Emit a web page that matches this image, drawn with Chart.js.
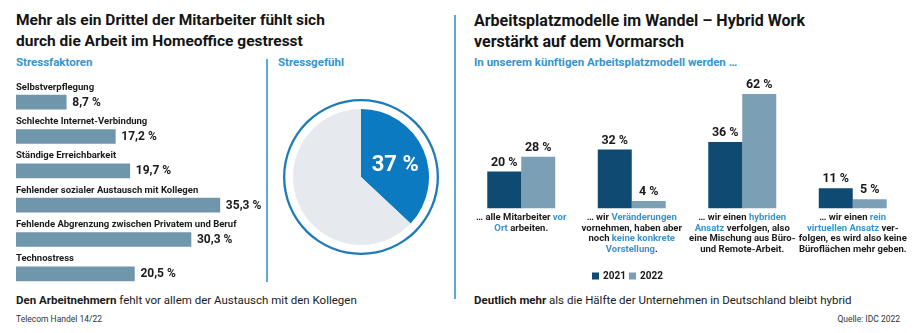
<!DOCTYPE html>
<html>
<head>
<meta charset="utf-8">
<script src="https://cdn.jsdelivr.net/npm/chart.js@4.4.0/dist/chart.umd.min.js"></script>
<style>
  body { margin: 0; background: #fff; font-family: Roboto, sans-serif; color: #1a1a1a; }
  #wrap { position: relative; width: 915px; height: 333px; overflow: hidden; }
  .t { position: absolute; white-space: nowrap; }
  .title { font-weight: bold; font-size: 15.5px; line-height: 21px; color: #141414; }
  .sub { font-weight: bold; font-size: 11.5px; line-height: 14px; color: #3794cc; }
  .note { font-size: 11.5px; line-height: 14px; }
  .foot { font-size: 8.5px; line-height: 12px; color: #333; }
  .vline { position: absolute; width: 2px; background: #5aa9d8; }
  canvas { position: absolute; }
</style>
</head>
<body>
<div id="wrap">
  <div class="t title" style="left:16px;top:10px">Mehr als ein Drittel der Mitarbeiter fühlt sich<br>durch die Arbeit im Homeoffice gestresst</div>
  <div class="t sub" style="left:16px;top:55px">Stressfaktoren</div>
  <div class="t sub" style="left:278px;top:55px">Stressgefühl</div>
  <div class="vline" style="left:266px;top:59px;height:223px"></div>
  <div class="vline" style="left:454px;top:15px;height:284px"></div>

  <div class="t title" style="left:474px;top:10px;font-size:16px">Arbeitsplatzmodelle im Wandel – Hybrid Work<br>verstärkt auf dem Vormarsch</div>
  <div class="t sub" style="left:474px;top:55px">In unserem künftigen Arbeitsplatzmodell werden …</div>

  <div class="t note" style="left:16px;top:293px"><b>Den Arbeitnehmern</b> fehlt vor allem der Austausch mit den Kollegen</div>
  <div class="t note" style="left:474px;top:293px"><b>Deutlich mehr</b> als die Hälfte der Unternehmen in Deutschland bleibt hybrid</div>
  <div class="t foot" style="left:16px;top:313px">Telecom Handel 14/22</div>
  <div class="t foot" style="right:15px;top:313px">Quelle: IDC 2022</div>

  <canvas id="stress" style="left:0;top:80px" width="266" height="215"></canvas>
  <canvas id="share" style="left:283px;top:99px" width="156" height="156"></canvas>
  <canvas id="models" style="left:460px;top:70px" width="455" height="215"></canvas>
</div>
<script>
// Stressfaktoren (in %)
var stressLabels = ['Selbstverpflegung', 'Schlechte Internet-Verbindung', 'Ständige Erreichbarkeit',
  'Fehlender sozialer Austausch mit Kollegen', 'Fehlende Abgrenzung zwischen Privatem und Beruf', 'Technostress'];
var stressValues = [8.7, 17.2, 19.7, 35.3, 30.3, 20.5];

// Stressgefühl: gestresst / nicht gestresst
var shareLabels = ['gestresst', 'nicht gestresst'];
var shareValues = [37, 63];

// Arbeitsplatzmodelle
var modelYears = ['2021', '2022'];
var modelCats = ['vor Ort', 'keine Vorstellung', 'hybrid', 'virtuell'];
var values2021 = [20, 32, 36, 11];
var values2022 = [28, 4, 62, 5];
// label lines, each a list of [text, highlighted]
var modelCatText = [
  [[['… alle Mitarbeiter ', 0], ['vor', 1]], [['Ort', 1], [' arbeiten.', 0]]],
  [[['… wir ', 0], ['Veränderungen', 1]], [['vornehmen, haben aber', 0]], [['noch ', 0], ['keine konkrete', 1]], [['Vorstellung', 1], ['.', 0]]],
  [[['… wir einen ', 0], ['hybriden', 1]], [['Ansatz', 1], [' verfolgen, also', 0]], [['eine Mischung aus Büro-', 0]], [['und Remote-Arbeit.', 0]]],
  [[['… wir einen ', 0], ['rein', 1]], [['virtuellen Ansatz', 1], [' ver-', 0]], [['folgen, es wird also keine', 0]], [['Büroflächen mehr geben.', 0]]]
];

var FONT = 'Roboto, sans-serif';
var DARK = '#1a1a1a';
var ACCENT = '#3794cc';

function pct(v) {
  return String(v).replace('.', ',') + ' %';
}

var stressPlugin = {
  id: 'stressPlugin',
  afterDatasetsDraw: function(chart) {
    var ctx = chart.ctx;
    var meta = chart.getDatasetMeta(0);
    ctx.save();
    ctx.textBaseline = 'middle';
    ctx.textAlign = 'left';
    ctx.fillStyle = DARK;
    meta.data.forEach(function(bar, i) {
      ctx.font = 'bold 9.5px ' + FONT;
      ctx.fillText(chart.data.labels[i], chart.chartArea.left, bar.y - 15);
      ctx.font = 'bold 12px ' + FONT;
      ctx.fillText(pct(chart.data.datasets[0].data[i]), bar.x + 6, bar.y + 0.5);
    });
    ctx.restore();
  }
};

new Chart(document.getElementById('stress'), {
  type: 'bar',
  data: {
    labels: stressLabels,
    datasets: [{ data: stressValues, backgroundColor: '#7096ab', barThickness: 14 }]
  },
  options: {
    indexAxis: 'y',
    responsive: false,
    animation: false,
    layout: { padding: { left: 16, right: 19, top: 5, bottom: 4 } },
    scales: {
      x: { display: false, min: 0, max: 40 },
      y: { display: false }
    },
    plugins: { legend: { display: false }, tooltip: { enabled: false } }
  },
  plugins: [stressPlugin]
});

var sharePlugin = {
  id: 'sharePlugin',
  afterDatasetsDraw: function(chart) {
    var ctx = chart.ctx;
    var arc = chart.getDatasetMeta(2).data[0];
    var p = arc.getCenterPoint();
    ctx.save();
    ctx.font = 'bold 22px ' + FONT;
    ctx.fillStyle = '#fff';
    ctx.textAlign = 'center';
    ctx.textBaseline = 'middle';
    ctx.fillText(shareValues[0] + ' %', p.x + 3, p.y + 2);
    ctx.restore();
  }
};

new Chart(document.getElementById('share'), {
  type: 'pie',
  data: {
    labels: shareLabels,
    datasets: [
      { data: [1], backgroundColor: ['#1c7bb8'], borderWidth: 0, weight: 2.3 },
      { data: [1], backgroundColor: ['rgba(0,0,0,0)'], borderWidth: 0, weight: 7.7 },
      { data: shareValues, backgroundColor: ['#0b7ac0', '#e6eaee'], borderWidth: 0, weight: 68 }
    ]
  },
  options: {
    responsive: false,
    animation: false,
    plugins: { legend: { display: false }, tooltip: { enabled: false } }
  },
  plugins: [sharePlugin]
});

var modelPlugin = {
  id: 'modelPlugin',
  afterDatasetsDraw: function(chart) {
    var ctx = chart.ctx;
    var area = chart.chartArea;
    var xs = chart.scales.x;
    ctx.save();
    ctx.textBaseline = 'middle';
    // values above bars
    ctx.textAlign = 'center';
    ctx.fillStyle = DARK;
    ctx.font = 'bold 12.5px ' + FONT;
    chart.data.datasets.forEach(function(ds, d) {
      chart.getDatasetMeta(d).data.forEach(function(bar, i) {
        ctx.fillText(pct(ds.data[i]), bar.x, bar.y - 9);
      });
    });
    // category texts below bars
    ctx.textAlign = 'left';
    ctx.font = 'bold 9.5px ' + FONT;
    modelCatText.forEach(function(lines, i) {
      var cx = xs.getPixelForValue(i);
      lines.forEach(function(line, li) {
        var total = 0;
        line.forEach(function(seg) { total += ctx.measureText(seg[0]).width; });
        var x = cx - total / 2;
        line.forEach(function(seg) {
          ctx.fillStyle = seg[1] ? ACCENT : DARK;
          ctx.fillText(seg[0], x, area.bottom + 9.5 + li * 10.5);
          x += ctx.measureText(seg[0]).width;
        });
      });
    });
    // legend
    var lx = 132, ly = 206;
    ctx.font = 'bold 10px ' + FONT;
    chart.data.datasets.forEach(function(ds) {
      ctx.fillStyle = ds.backgroundColor;
      ctx.fillRect(lx, ly - 3.5, 7, 7);
      ctx.fillStyle = DARK;
      ctx.fillText(ds.label, lx + 11, ly);
      lx += 37;
    });
    ctx.restore();
  }
};

new Chart(document.getElementById('models'), {
  type: 'bar',
  data: {
    labels: modelCats,
    datasets: [
      { label: modelYears[0], data: values2021, backgroundColor: '#0e4a72' },
      { label: modelYears[1], data: values2022, backgroundColor: '#7b9fb4' }
    ]
  },
  options: {
    responsive: false,
    animation: false,
    datasets: { bar: { categoryPercentage: 0.615, barPercentage: 1 } },
    layout: { padding: { left: 6, right: 7, top: 9.3, bottom: 76.5 } },
    scales: {
      x: { display: false },
      y: { display: false, min: 0, max: 70 }
    },
    plugins: { legend: { display: false }, tooltip: { enabled: false } }
  },
  plugins: [modelPlugin]
});
</script>
</body>
</html>
